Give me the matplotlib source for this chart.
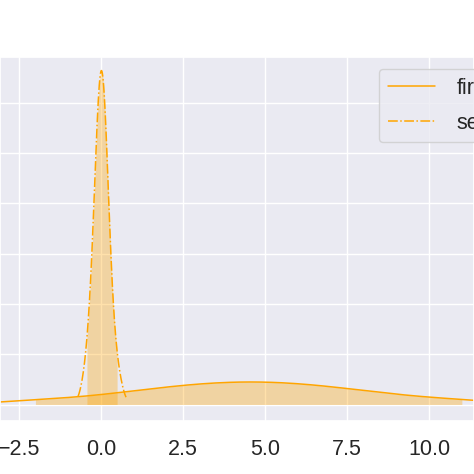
import matplotlib
matplotlib.use("Agg")
import matplotlib.pyplot as plt
from matplotlib.ticker import MultipleLocator
import seaborn as sns

# Sample values (estimated from the density shapes in the reference)
first = [-2.0, -0.25, 0.72, 1.44, 2.04, 2.56, 3.04, 3.49, 3.92, 4.34,
         4.76, 5.18, 5.61, 6.06, 6.54, 7.04, 7.66, 8.38, 9.35, 11.0]
second = [-0.43, -0.27, -0.19, -0.14, -0.10, -0.07, -0.045, -0.025, -0.01, 0.005,
          0.02, 0.035, 0.05, 0.07, 0.095, 0.125, 0.16, 0.21, 0.29, 0.49]
labels = ["first", "second"]

sns.set_theme(style="darkgrid")
plt.rcParams["font.family"] = ["Liberation Sans", "DejaVu Sans"]

W = H = 474
fig = plt.figure(figsize=(W / 100, H / 100), dpi=100)
ax = fig.add_axes([0, (H - 421) / H, 1, (421 - 57) / H])

color = "orange"
specs = [(first, labels[0], "-", 0.71, 3.2), (second, labels[1], "-.", 1.55, 1.6)]
for data, lab, ls, bwa, cut in specs:
    sns.kdeplot(data, ax=ax, color=color, fill=True, cut=0, bw_adjust=bwa,
                alpha=0.33, linewidth=0)
    sns.kdeplot(data, ax=ax, color=color, cut=cut, bw_adjust=bwa,
                linewidth=1.1, linestyle=ls, label=lab)

ax.set_xlim(-3.08, 11.37)
ax.set_ylim(-0.082, 1.727)
ax.xaxis.set_major_locator(MultipleLocator(2.5))
ax.yaxis.set_major_locator(MultipleLocator(0.25))
ax.set_xlabel("")
ax.set_ylabel("Density")
ax.tick_params(axis="x", labelsize=15.5, pad=7)
ax.tick_params(axis="y", labelsize=15.5, pad=7)

ax.legend(loc="upper left", bbox_to_anchor=(379 / W, 1 - 69 / H),
          bbox_transform=fig.transFigure, borderaxespad=0, fontsize=15.5,
          handlelength=2.2, handletextpad=1.0, labelspacing=0.65)

fig.savefig("out.png", dpi=100)
